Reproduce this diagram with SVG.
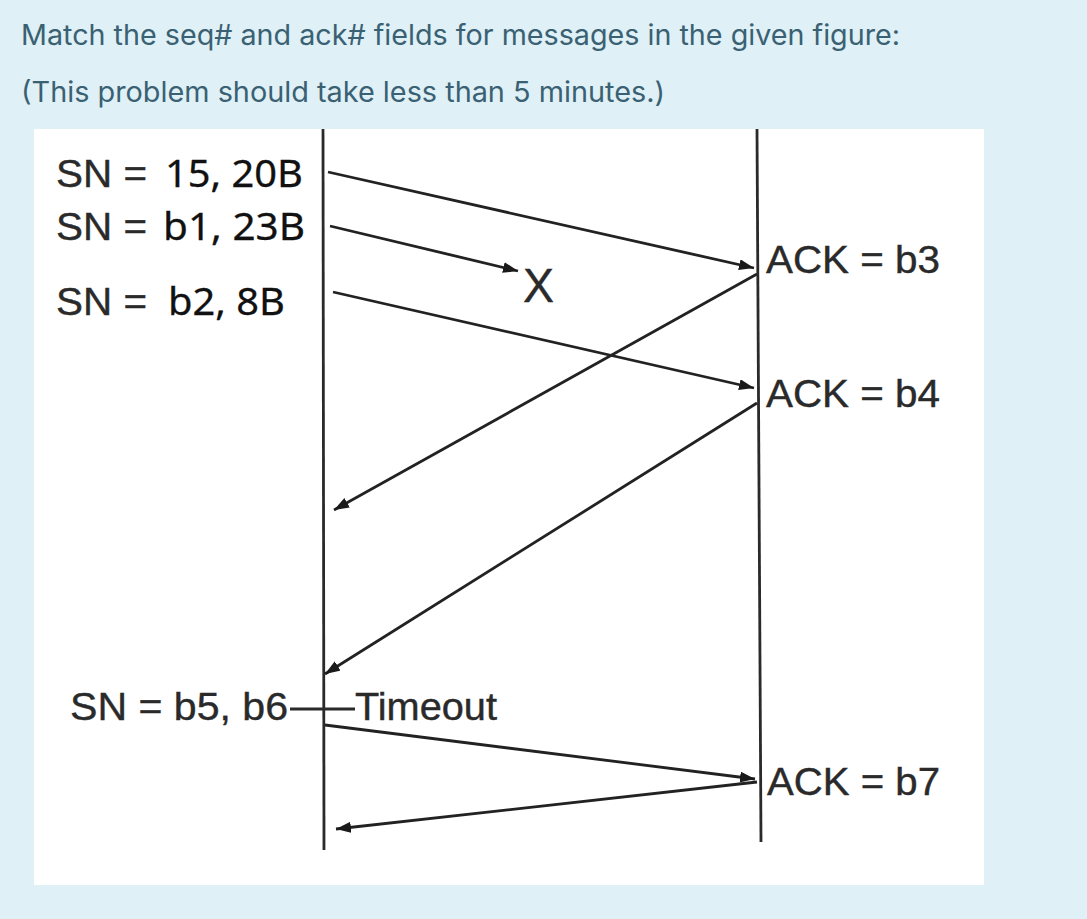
<svg xmlns="http://www.w3.org/2000/svg" width="1087" height="919" viewBox="0 0 1087 919">
<defs>
<style>
.hd{font-family:Inter,"Noto Sans","Liberation Sans",sans-serif;font-size:28px;fill:#3a6173}
.lb{font-family:"Liberation Sans",Arial,sans-serif;font-size:38px;fill:#2a2a2a;stroke:#2a2a2a;stroke-width:0.4}
.nm{font-family:"Noto Sans","Liberation Sans",sans-serif;font-size:38px;fill:#111111;stroke:#111111;stroke-width:0.3}
.ln{stroke:#2a2a2a;stroke-width:2.8;fill:none}
.msg{stroke:#222222;stroke-width:2.8;fill:none;marker-end:url(#ah)}
</style>
<marker id="ah" markerUnits="userSpaceOnUse" markerWidth="18" markerHeight="12" refX="15" refY="5.5" orient="auto">
<path d="M0,0 L15,5.5 L0,11 z" fill="#1a1a1a"/>
</marker>
</defs>
<rect x="0" y="0" width="1087" height="919" fill="#dff0f6"/>
<text class="hd" x="21" y="45" textLength="879" lengthAdjust="spacingAndGlyphs">Match the seq# and ack# fields for messages in the given figure:</text>
<text class="hd" x="21" y="102" textLength="644" lengthAdjust="spacingAndGlyphs">(This problem should take less than 5 minutes.)</text>
<rect x="34" y="129" width="950" height="756" fill="#ffffff"/>

<g id="sender">
<line class="ln" x1="323" y1="129" x2="324" y2="850"/>
</g>
<g id="receiver">
<line class="ln" x1="757" y1="129" x2="761" y2="842"/>
</g>

<g id="label-sn1">
<text x="56" y="187"><tspan class="lb" textLength="91" lengthAdjust="spacingAndGlyphs">SN =</tspan><tspan class="nm" x="165" textLength="138" lengthAdjust="spacingAndGlyphs">15, 20B</tspan></text>
</g>
<g id="label-sn2">
<text x="56" y="240"><tspan class="lb" textLength="91" lengthAdjust="spacingAndGlyphs">SN =</tspan><tspan class="nm" x="163" textLength="142" lengthAdjust="spacingAndGlyphs">b1, 23B</tspan></text>
</g>
<g id="label-sn3">
<text x="56" y="315"><tspan class="lb" textLength="91" lengthAdjust="spacingAndGlyphs">SN =</tspan><tspan class="nm" x="168" textLength="117" lengthAdjust="spacingAndGlyphs">b2, 8B</tspan></text>
</g>
<g id="label-lost">
<text class="lb" x="523" y="302" style="font-size:48px" textLength="31" lengthAdjust="spacingAndGlyphs">X</text>
</g>
<g id="label-ack3">
<text class="lb" x="766" y="273" textLength="174" lengthAdjust="spacingAndGlyphs">ACK = b3</text>
</g>
<g id="label-ack4">
<text class="lb" x="766" y="407" textLength="174" lengthAdjust="spacingAndGlyphs">ACK = b4</text>
</g>
<g id="label-sn56">
<text class="lb" x="70" y="720" textLength="218" lengthAdjust="spacingAndGlyphs">SN = b5, b6</text>
</g>
<g id="label-timeout">
<text class="lb" x="355" y="720" textLength="142" lengthAdjust="spacingAndGlyphs">Timeout</text>
</g>
<g id="label-ack7">
<text class="lb" x="767" y="795" textLength="173" lengthAdjust="spacingAndGlyphs">ACK = b7</text>
</g>

<g id="connectors">
<line class="msg" x1="328" y1="172" x2="754" y2="268"/>
<line class="msg" x1="330" y1="226" x2="518" y2="271"/>
<line class="msg" x1="333" y1="292" x2="754" y2="388"/>
<line class="msg" x1="757" y1="274" x2="334" y2="510"/>
<line class="msg" x1="757" y1="403" x2="325" y2="674"/>
<line class="ln" x1="290" y1="709" x2="355" y2="709"/>
<line class="msg" x1="325" y1="725" x2="755" y2="779"/>
<line class="msg" x1="757" y1="782" x2="336" y2="829"/>
</g>
</svg>
